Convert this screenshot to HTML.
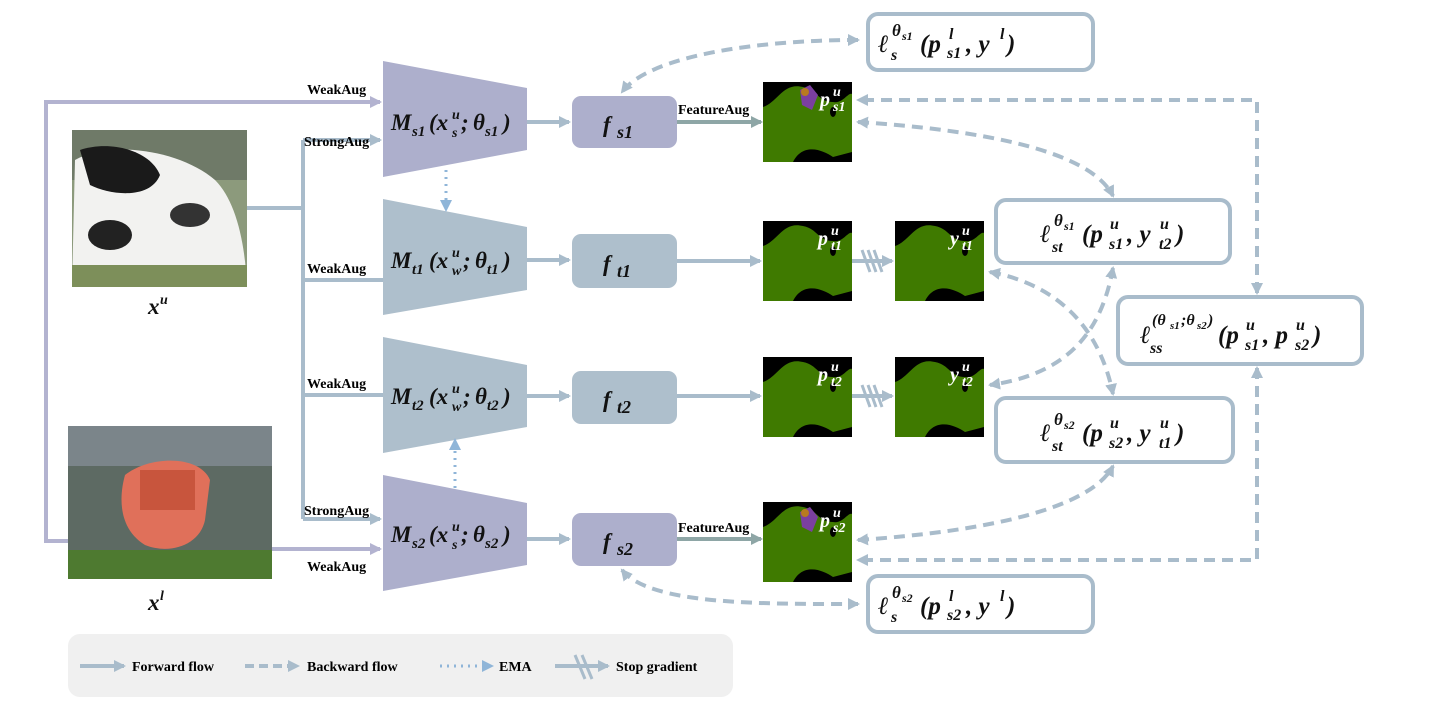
<!DOCTYPE html>
<html><head><meta charset="utf-8"><style>
html,body{margin:0;padding:0;background:#fff;width:1442px;height:721px;overflow:hidden}
svg text{font-family:"Liberation Serif",serif}
.lb{font-weight:bold;font-size:14px;fill:#000}
.m{font-style:italic;font-weight:bold;font-size:23px;fill:#111}
.l{font-style:italic;font-weight:bold;font-size:25px;fill:#111}
.w{fill:#fff;font-style:italic;font-weight:bold;font-size:20px}
</style></head><body>
<svg width="1442" height="721" viewBox="0 0 1442 721" xmlns="http://www.w3.org/2000/svg">
<defs>
<marker id="a" markerWidth="12" markerHeight="12" refX="10" refY="6" orient="auto-start-reverse" markerUnits="userSpaceOnUse"><path d="M0,0 L12,6 L0,12 z" fill="#a9bccb"/></marker>
<marker id="ap" markerWidth="12" markerHeight="12" refX="10" refY="6" orient="auto" markerUnits="userSpaceOnUse"><path d="M0,0 L12,6 L0,12 z" fill="#b3b3d0"/></marker>
<marker id="ae" markerWidth="12" markerHeight="12" refX="10" refY="6" orient="auto" markerUnits="userSpaceOnUse"><path d="M0,0 L12,6 L0,12 z" fill="#8fb5d8"/></marker>
<marker id="ag" markerWidth="12" markerHeight="12" refX="10" refY="6" orient="auto" markerUnits="userSpaceOnUse"><path d="M0,0 L12,6 L0,12 z" fill="#8ea6a6"/></marker>
<g id="seg"><rect width="89" height="80" fill="#000"/><path d="M0,25 C15,20 20,0 40,5 C55,8 55,20 70,20 C80,22 85,10 89,12 L89,80 L0,80 z" fill="#3f7a00"/><ellipse cx="70" cy="30" rx="3" ry="5" fill="#000"/><path d="M30,80 C40,60 60,68 70,75 L89,70 L89,80z" fill="#000"/></g>
</defs>

<!-- legend -->
<rect x="68" y="634" width="665" height="63" rx="12" fill="#f0f0f0"/>
<line x1="80" y1="666" x2="124" y2="666" stroke="#a9bccb" stroke-width="4" marker-end="url(#a)"/>
<text class="lb" x="132" y="671">Forward flow</text>
<line x1="245" y1="666" x2="298" y2="666" stroke="#a9bccb" stroke-width="4" stroke-dasharray="9,5" marker-end="url(#a)"/>
<text class="lb" x="307" y="671">Backward flow</text>
<line x1="440" y1="666" x2="492" y2="666" stroke="#8fb5d8" stroke-width="3" stroke-dasharray="2,5" marker-end="url(#ae)"/>
<text class="lb" x="499" y="671">EMA</text>
<line x1="555" y1="666" x2="608" y2="666" stroke="#a9bccb" stroke-width="4" marker-end="url(#a)"/>
<line x1="575" y1="655" x2="585" y2="679" stroke="#a9bccb" stroke-width="3"/><line x1="582" y1="655" x2="592" y2="679" stroke="#a9bccb" stroke-width="3"/>
<text class="lb" x="616" y="671">Stop gradient</text>

<!-- images -->
<g>
<rect x="72" y="130" width="175" height="157" fill="#8c9a7c"/>
<rect x="72" y="130" width="175" height="50" fill="#6f7a68"/>
<path d="M75,160 C110,140 180,150 215,180 C235,200 245,240 247,287 L72,287z" fill="#f2f2f0"/>
<path d="M80,150 C110,140 150,150 160,175 C150,200 110,195 90,185z" fill="#1a1a1a"/>
<ellipse cx="110" cy="235" rx="22" ry="15" fill="#222"/><ellipse cx="190" cy="215" rx="20" ry="12" fill="#333"/>
<rect x="72" y="265" width="175" height="22" fill="#7d8f5a"/>
</g>
<g>
<rect x="68" y="426" width="204" height="153" fill="#5d6a63"/>
<rect x="68" y="426" width="204" height="40" fill="#7b858a"/>
<path d="M125,475 C150,455 200,455 210,480 L205,520 C200,545 170,555 145,545 C120,530 118,500 125,475z" fill="#e0705a"/>
<rect x="140" y="470" width="55" height="40" fill="#c8553d"/>
<rect x="68" y="550" width="204" height="29" fill="#4e7a30"/>
</g>
<text class="m"><tspan x="148" y="314">x</tspan><tspan x="160" y="304" font-size="14">u</tspan></text>
<text class="m"><tspan x="148" y="610">x</tspan><tspan x="160" y="600" font-size="14">l</tspan></text>

<!-- input lines -->
<polyline points="68,541 46,541 46,102 380,102" fill="none" stroke="#b3b3d0" stroke-width="4" marker-end="url(#ap)"/>
<line x1="272" y1="549" x2="380" y2="549" stroke="#b3b3d0" stroke-width="4" marker-end="url(#ap)"/>
<line x1="247" y1="208" x2="303" y2="208" stroke="#a9bccb" stroke-width="4"/>
<line x1="303" y1="140" x2="303" y2="519" stroke="#a9bccb" stroke-width="4"/>
<line x1="303" y1="140" x2="380" y2="140" stroke="#a9bccb" stroke-width="4" marker-end="url(#a)"/>
<line x1="303" y1="280" x2="383" y2="280" stroke="#a9bccb" stroke-width="4"/>
<line x1="303" y1="395" x2="383" y2="395" stroke="#a9bccb" stroke-width="4"/>
<line x1="303" y1="519" x2="380" y2="519" stroke="#a9bccb" stroke-width="4" marker-end="url(#a)"/>
<text class="lb" x="307" y="94">WeakAug</text>
<text class="lb" x="304" y="146">StrongAug</text>
<text class="lb" x="307" y="273">WeakAug</text>
<text class="lb" x="307" y="388">WeakAug</text>
<text class="lb" x="304" y="515">StrongAug</text>
<text class="lb" x="307" y="571">WeakAug</text>

<!-- trapezoids -->
<polygon points="383,61 527,88 527,150 383,177" fill="#adafcc"/>
<polygon points="383,199 527,227 527,290 383,315" fill="#aebfcc"/>
<polygon points="383,337 527,365 527,427 383,453" fill="#aebfcc"/>
<polygon points="383,475 527,503 527,565 383,591" fill="#adafcc"/>
<text class="m"><tspan x="391" y="130">M</tspan><tspan x="412" y="136" font-size="15">s1</tspan><tspan x="429" y="130">(x</tspan><tspan x="452" y="119" font-size="14">u</tspan><tspan x="452" y="137" font-size="14">s</tspan><tspan x="461" y="130">;</tspan><tspan x="473" y="130">θ</tspan><tspan x="485" y="136" font-size="15">s1</tspan><tspan x="503" y="130">)</tspan></text>
<text class="m"><tspan x="391" y="268">M</tspan><tspan x="412" y="274" font-size="15">t1</tspan><tspan x="429" y="268">(x</tspan><tspan x="452" y="257" font-size="14">u</tspan><tspan x="452" y="275" font-size="14">w</tspan><tspan x="463" y="268">;</tspan><tspan x="475" y="268">θ</tspan><tspan x="487" y="274" font-size="15">t1</tspan><tspan x="503" y="268">)</tspan></text>
<text class="m"><tspan x="391" y="404">M</tspan><tspan x="412" y="410" font-size="15">t2</tspan><tspan x="429" y="404">(x</tspan><tspan x="452" y="393" font-size="14">u</tspan><tspan x="452" y="411" font-size="14">w</tspan><tspan x="463" y="404">;</tspan><tspan x="475" y="404">θ</tspan><tspan x="487" y="410" font-size="15">t2</tspan><tspan x="503" y="404">)</tspan></text>
<text class="m"><tspan x="391" y="542">M</tspan><tspan x="412" y="548" font-size="15">s2</tspan><tspan x="429" y="542">(x</tspan><tspan x="452" y="531" font-size="14">u</tspan><tspan x="452" y="549" font-size="14">s</tspan><tspan x="461" y="542">;</tspan><tspan x="473" y="542">θ</tspan><tspan x="485" y="548" font-size="15">s2</tspan><tspan x="503" y="542">)</tspan></text>

<!-- EMA -->
<line x1="446" y1="170" x2="446" y2="210" stroke="#8fb5d8" stroke-width="3" stroke-dasharray="2,5" marker-end="url(#ae)"/>
<line x1="455" y1="488" x2="455" y2="440" stroke="#8fb5d8" stroke-width="3" stroke-dasharray="2,5" marker-end="url(#ae)"/>

<!-- to f -->
<line x1="527" y1="122" x2="569" y2="122" stroke="#a9bccb" stroke-width="4" marker-end="url(#a)"/>
<line x1="527" y1="260" x2="569" y2="260" stroke="#a9bccb" stroke-width="4" marker-end="url(#a)"/>
<line x1="527" y1="396" x2="569" y2="396" stroke="#a9bccb" stroke-width="4" marker-end="url(#a)"/>
<line x1="527" y1="539" x2="569" y2="539" stroke="#a9bccb" stroke-width="4" marker-end="url(#a)"/>
<rect x="572" y="96" width="105" height="52" rx="9" fill="#adafcc"/>
<rect x="572" y="234" width="105" height="54" rx="9" fill="#aebfcc"/>
<rect x="572" y="371" width="105" height="53" rx="9" fill="#aebfcc"/>
<rect x="572" y="513" width="105" height="53" rx="9" fill="#adafcc"/>
<text class="m" font-size="28"><tspan x="603" y="132">f</tspan><tspan x="617" y="138" font-size="18">s1</tspan></text>
<text class="m" font-size="28"><tspan x="603" y="271">f</tspan><tspan x="617" y="277" font-size="18">t1</tspan></text>
<text class="m" font-size="28"><tspan x="603" y="407">f</tspan><tspan x="617" y="413" font-size="18">t2</tspan></text>
<text class="m" font-size="28"><tspan x="603" y="549">f</tspan><tspan x="617" y="555" font-size="18">s2</tspan></text>

<!-- f to seg -->
<line x1="677" y1="122" x2="761" y2="122" stroke="#8ea6a6" stroke-width="4" marker-end="url(#ag)"/>
<line x1="677" y1="539" x2="761" y2="539" stroke="#8ea6a6" stroke-width="4" marker-end="url(#ag)"/>
<text class="lb" x="678" y="114">FeatureAug</text>
<text class="lb" x="678" y="532">FeatureAug</text>
<line x1="677" y1="261" x2="760" y2="261" stroke="#a9bccb" stroke-width="4" marker-end="url(#a)"/>
<line x1="677" y1="396" x2="760" y2="396" stroke="#a9bccb" stroke-width="4" marker-end="url(#a)"/>
<line x1="852" y1="261" x2="892" y2="261" stroke="#a9bccb" stroke-width="4" marker-end="url(#a)"/>
<line x1="852" y1="396" x2="892" y2="396" stroke="#a9bccb" stroke-width="4" marker-end="url(#a)"/>
<line x1="862" y1="250" x2="870" y2="272" stroke="#a9bccb" stroke-width="3"/><line x1="868" y1="250" x2="876" y2="272" stroke="#a9bccb" stroke-width="3"/><line x1="874" y1="250" x2="882" y2="272" stroke="#a9bccb" stroke-width="3"/>
<line x1="862" y1="385" x2="870" y2="407" stroke="#a9bccb" stroke-width="3"/><line x1="868" y1="385" x2="876" y2="407" stroke="#a9bccb" stroke-width="3"/><line x1="874" y1="385" x2="882" y2="407" stroke="#a9bccb" stroke-width="3"/>

<!-- segs -->
<use href="#seg" x="763" y="82"/><path d="M800,90 l10,-5 l8,10 l-6,15 l-10,-5z" fill="#7b3fa0"/><circle cx="805" cy="92" r="4" fill="#b87a20"/>
<use href="#seg" x="763" y="221"/>
<use href="#seg" x="895" y="221"/>
<use href="#seg" x="763" y="357"/>
<use href="#seg" x="895" y="357"/>
<use href="#seg" x="763" y="502"/><path d="M800,512 l10,-5 l8,10 l-6,15 l-10,-5z" fill="#7b3fa0"/><circle cx="805" cy="513" r="4" fill="#b87a20"/>
<text class="w"><tspan x="820" y="106">p</tspan><tspan x="833" y="96" font-size="14">u</tspan><tspan x="833" y="111" font-size="14">s1</tspan></text>
<text class="w"><tspan x="818" y="245">p</tspan><tspan x="831" y="235" font-size="14">u</tspan><tspan x="831" y="250" font-size="14">t1</tspan></text>
<text class="w"><tspan x="950" y="245">y</tspan><tspan x="962" y="235" font-size="14">u</tspan><tspan x="962" y="250" font-size="14">t1</tspan></text>
<text class="w"><tspan x="818" y="381">p</tspan><tspan x="831" y="371" font-size="14">u</tspan><tspan x="831" y="386" font-size="14">t2</tspan></text>
<text class="w"><tspan x="950" y="381">y</tspan><tspan x="962" y="371" font-size="14">u</tspan><tspan x="962" y="386" font-size="14">t2</tspan></text>
<text class="w"><tspan x="820" y="527">p</tspan><tspan x="833" y="517" font-size="14">u</tspan><tspan x="833" y="532" font-size="14">s2</tspan></text>

<!-- loss boxes -->
<g fill="#fff" stroke="#a9bccb" stroke-width="4">
<rect x="868" y="14" width="225" height="56" rx="10"/>
<rect x="996" y="200" width="234" height="63" rx="10"/>
<rect x="1118" y="297" width="244" height="67" rx="10"/>
<rect x="996" y="398" width="237" height="64" rx="10"/>
<rect x="868" y="576" width="225" height="56" rx="10"/>
</g>
<text class="l"><tspan x="878" y="52">ℓ</tspan><tspan x="892" y="36" font-size="17">θ</tspan><tspan x="902" y="40" font-size="12">s1</tspan><tspan x="891" y="60" font-size="16">s</tspan><tspan x="920" y="52">(p</tspan><tspan x="949" y="39" font-size="16">l</tspan><tspan x="947" y="58" font-size="16">s1</tspan><tspan x="966" y="52">, y</tspan><tspan x="1000" y="39" font-size="16">l</tspan><tspan x="1007" y="52">)</tspan></text>
<text class="l"><tspan x="878" y="614">ℓ</tspan><tspan x="892" y="598" font-size="17">θ</tspan><tspan x="902" y="602" font-size="12">s2</tspan><tspan x="891" y="622" font-size="16">s</tspan><tspan x="920" y="614">(p</tspan><tspan x="949" y="601" font-size="16">l</tspan><tspan x="947" y="620" font-size="16">s2</tspan><tspan x="966" y="614">, y</tspan><tspan x="1000" y="601" font-size="16">l</tspan><tspan x="1007" y="614">)</tspan></text>
<text class="l"><tspan x="1040" y="242">ℓ</tspan><tspan x="1054" y="226" font-size="17">θ</tspan><tspan x="1064" y="230" font-size="12">s1</tspan><tspan x="1052" y="252" font-size="16">st</tspan><tspan x="1082" y="242">(p</tspan><tspan x="1110" y="229" font-size="16">u</tspan><tspan x="1109" y="249" font-size="16">s1</tspan><tspan x="1127" y="242">, y</tspan><tspan x="1160" y="229" font-size="16">u</tspan><tspan x="1159" y="249" font-size="16">t2</tspan><tspan x="1176" y="242">)</tspan></text>
<text class="l"><tspan x="1040" y="441">ℓ</tspan><tspan x="1054" y="425" font-size="17">θ</tspan><tspan x="1064" y="429" font-size="12">s2</tspan><tspan x="1052" y="451" font-size="16">st</tspan><tspan x="1082" y="441">(p</tspan><tspan x="1110" y="428" font-size="16">u</tspan><tspan x="1109" y="448" font-size="16">s2</tspan><tspan x="1127" y="441">, y</tspan><tspan x="1160" y="428" font-size="16">u</tspan><tspan x="1159" y="448" font-size="16">t1</tspan><tspan x="1176" y="441">)</tspan></text>
<text class="l"><tspan x="1140" y="343">ℓ</tspan><tspan x="1152" y="325" font-size="16">(θ</tspan><tspan x="1170" y="329" font-size="11">s1</tspan><tspan x="1181" y="325" font-size="16">;θ</tspan><tspan x="1197" y="329" font-size="11">s2</tspan><tspan x="1208" y="325" font-size="16">)</tspan><tspan x="1150" y="353" font-size="16">ss</tspan><tspan x="1218" y="343">(p</tspan><tspan x="1246" y="330" font-size="16">u</tspan><tspan x="1245" y="350" font-size="16">s1</tspan><tspan x="1263" y="343">, p</tspan><tspan x="1296" y="330" font-size="16">u</tspan><tspan x="1295" y="350" font-size="16">s2</tspan><tspan x="1313" y="343">)</tspan></text>

<!-- dashed backward -->
<g fill="none" stroke="#a9bccb" stroke-width="4" stroke-dasharray="11,7">
<path d="M858,40 C760,40 650,55 622,92" marker-end="url(#a)" marker-start="url(#a)"/>
<path d="M622,570 C650,605 760,604 858,604" marker-end="url(#a)" marker-start="url(#a)"/>
<polyline points="1257,293 1257,100 858,100" marker-end="url(#a)" marker-start="url(#a)"/>
<polyline points="1257,368 1257,560 858,560" marker-end="url(#a)" marker-start="url(#a)"/>
<path d="M858,122 C980,130 1090,150 1113,196" marker-end="url(#a)" marker-start="url(#a)"/>
<path d="M858,540 C980,532 1090,510 1113,466" marker-end="url(#a)" marker-start="url(#a)"/>
<path d="M1113,268 C1100,340 1060,375 990,385" marker-end="url(#a)" marker-start="url(#a)"/>
<path d="M990,272 C1060,285 1100,330 1113,394" marker-end="url(#a)" marker-start="url(#a)"/>
</g>
</svg>
</body></html>
